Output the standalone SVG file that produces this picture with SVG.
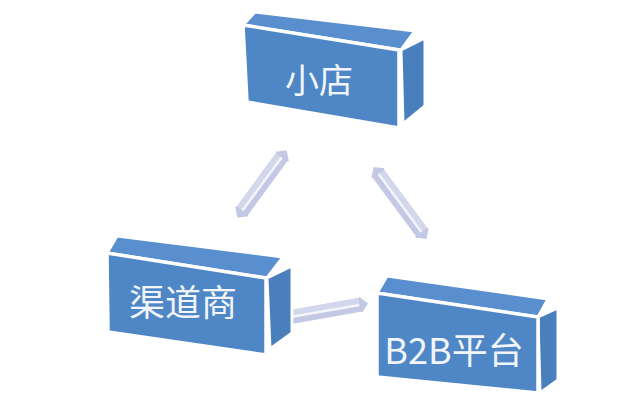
<svg xmlns="http://www.w3.org/2000/svg" width="640" height="406" viewBox="0 0 640 406">
<style>
.top{fill:#5a8fcf;stroke:#fff;stroke-width:3;stroke-linejoin:round}
.side{fill:#4a7fbe;stroke:#fff;stroke-width:3;stroke-linejoin:round}
.front{fill:#4f86c6;stroke:#fff;stroke-width:3.5;stroke-linejoin:round}
.lbl{fill:#f2f6fb;font-family:"Noto Sans CJK SC","Noto Sans",sans-serif;text-anchor:middle;dominant-baseline:central}
.arr{fill:#c3c9e4;stroke:#fff;stroke-width:2;stroke-linejoin:round}
.arrhl{fill:none;stroke:#f4f5fa;stroke-width:2.5}
.arrlt{fill:#d3d7ec}
</style>
<rect width="640" height="406" fill="#fff"/>
<g id="connectors">
  <g transform="translate(262,184) rotate(-53.7)">
    <path class="arr" d="M-43,0 L-33,-11 L-33,-8 L33,-8 L33,-11 L43,0 L33,11 L33,8 L-33,8 L-33,11 Z"/>
    <path class="arrlt" d="M-33,-7 L33,-7 L33,-1 L-33,-1 Z"/>
    <path class="arrhl" d="M-33,0 L33,0"/>
  </g>
  <g transform="translate(400,203) rotate(53.5)">
    <path class="arr" d="M-46,0 L-36,-11 L-36,-8 L36,-8 L36,-11 L46,0 L36,11 L36,8 L-36,8 L-36,11 Z"/>
    <path class="arrlt" d="M-36,-7 L36,-7 L36,-1 L-36,-1 Z"/>
    <path class="arrhl" d="M-36,0 L36,0"/>
  </g>
  <g transform="translate(325,311) rotate(-10)">
    <path class="arr" d="M-45,0 L-35,-11 L-35,-8 L35,-8 L35,-11 L45,0 L35,11 L35,8 L-35,8 L-35,11 Z"/>
    <path class="arrlt" d="M-35,-7 L35,-7 L35,-1 L-35,-1 Z"/>
    <path class="arrhl" d="M-35,0 L35,0"/>
  </g>
</g>
<g id="node-xiaodian">
  <polygon class="top" points="255,12 415,31 401,50 243,25"/>
  <polygon class="side" points="401,50 425,38 425,106 403,124"/>
  <polygon class="front" points="243,25 399,50 399,128 247,102"/>
  <text class="lbl" x="319" y="78" font-size="34">小店</text>
</g>
<g id="node-qudaoshang">
  <polygon class="top" points="117,236 283,257 267,278 107,253"/>
  <polygon class="side" points="267,278 292,266 292,333 270,349"/>
  <polygon class="front" points="107,253 266,278 266,355 108,332"/>
  <text class="lbl" x="183" y="300" font-size="36">渠道商</text>
</g>
<g id="node-b2b">
  <polygon class="top" points="387,276 548,299 538,317 377,293"/>
  <polygon class="side" points="538,317 558,308 558,380 540,393"/>
  <polygon class="front" points="377,293 538,317 538,393 377,377"/>
  <text class="lbl" x="454" y="348" font-size="36">B2B平台</text>
</g>
</svg>
